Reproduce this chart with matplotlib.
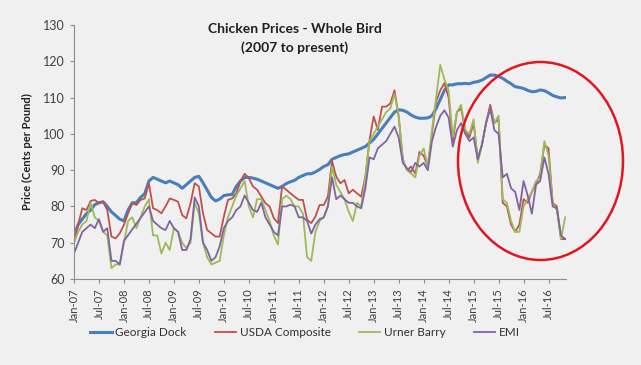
import numpy as np
import pandas as pd
import matplotlib
matplotlib.use("Agg")
import matplotlib.pyplot as plt
from matplotlib.patches import Ellipse

# monthly readings, Jan 2007 .. Nov 2016 (cents per pound)
dates = pd.date_range("2007-01-01", periods=119, freq="MS")

georgia_dock = [
    72, 75, 76.5, 78, 79, 80.5, 81, 81.3, 80, 78.5, 77.5, 76.5,
    76, 79, 81, 81, 82.5, 83.5, 87, 88, 87.5, 87, 86.5, 87,
    86.5, 86, 85, 86, 87, 88, 88.3, 86.5, 84.5, 82.5, 81.5, 82,
    83, 83.2, 83.3, 85.5, 87, 88, 88, 87.8, 87.5, 87, 86.5, 86,
    85.5, 85, 85.5, 86.3, 86.8, 87.2, 88, 88.5, 89, 89, 89.5, 90.2,
    91, 91.5, 93, 93.5, 94, 94.3, 94.5, 95, 95.5, 96, 96.5, 97.5,
    98.5, 100, 101.5, 103, 104.5, 106, 106.6, 106.5, 106, 105.2, 104.6, 104.3,
    104.3, 104.4, 105, 107, 109.5, 112, 113.5, 113.5, 113.8, 113.8, 113.9, 113.8,
    114.2, 114.4, 114.8, 115.5, 116.2, 116.2, 115.8, 115.3, 114.5, 113.8, 113, 112.8,
    112.5, 112, 111.6, 111.7, 112.1, 111.9, 111.3, 110.6, 110.2, 109.9, 110,
]

usda_composite = [
    70, 75, 79.5, 79, 81.5, 81.8, 80.9, 81.3, 79, 71.7, 71.2, 72.6,
    74.9, 78.1, 80.9, 80.4, 81.8, 82.2, 86.4, 79.5, 79, 78.1, 80, 82.2,
    81.8, 81.3, 77.6, 76.7, 80.9, 86.4, 85.5, 78.1, 73.5, 72.6, 71.7, 71.7,
    77.2, 81.8, 82.2, 83.6, 87, 89, 87.8, 85.5, 84.6, 82.7, 80.9, 80,
    76.8, 75.4, 85.5, 84.6, 83.6, 82.7, 81.8, 81.8, 76.3, 75.4, 77.2, 80.4,
    80.4, 82.7, 92.4, 88.2, 86.4, 87.3, 83.6, 84.6, 83.6, 82.7, 88.2, 98.3,
    104.8, 101.1, 107.5, 107.5, 108.4, 112, 104.8, 92.8, 90, 91, 89, 95,
    94, 91, 100, 109, 112, 114, 110, 98, 106, 107, 101, 99,
    103, 93, 97, 103, 108, 103, 104, 81, 80, 75, 73, 75,
    82, 81, 84, 86, 89, 97, 96, 81, 80, 71, 71,
]

urner_barry = [
    70, 73, 75, 76, 81, 77, 76, 73, 72, 63, 64, 64,
    70, 76, 77, 74, 77, 80, 82, 72, 72, 67, 70, 68,
    74, 73, 70, 68.5, 70, 81, 78, 70, 66, 64, 64.5, 65,
    72, 77, 80, 83, 85, 87, 80, 77, 82, 82, 79, 76,
    72, 69.5, 82, 83, 82, 80, 80, 78, 66, 65, 73, 76,
    77, 80, 91, 86, 84, 82, 78.5, 76, 81, 80, 88, 98,
    100, 102, 104, 106, 107, 111, 105, 93, 90, 89, 88, 94,
    96, 91, 101, 110, 119, 115, 112, 99, 106, 108, 101, 100,
    104, 92, 97, 103, 107, 103, 105, 82, 81, 76, 73, 73,
    80, 82, 84, 87, 88, 98, 94, 81, 79, 71, 77,
]

emi = [
    67, 70, 73, 74, 75, 74, 76.5, 73, 74, 65, 65, 64,
    70.5, None, None, None, None, None, 80, 76, 75, 74, 73.5, 76,
    74, 73, 68, 68, 71, 82.5, 80, 70, 68, 65, 66, 69,
    74, 76, 77, 79, 80, 83, 81, 79, 78.5, 81, 77, 75,
    73, 72, 80, 80, 80.5, 80, 77, 77, 76, 72.5, 75, 76.5,
    77, 80, 88, 82, 83, 82, 81, 81, 80, 79.5, 85, 93.5,
    93, 96, 97, 98, 100, 102, 99, 92, 90.5, 89.5, 92, 91,
    92, 90, 98, 102, 105, 106.5, 104.5, 96.5, 101, 103, 100, 98,
    99, 93, 97, 103, 107, 101, 100, 88, 89, 85, 84, 79,
    87, 83, 78, 86, 87, 93.5, 89, 80, 79.5, 72, 71,
]

plt.rcParams['font.family'] = ['Lato', 'DejaVu Sans']

bg = '#f0f0f0'
fig = plt.figure(figsize=(6.41, 3.65), dpi=100, facecolor=bg)
ax = fig.add_axes([0.1154, 0.2356, 0.7676, 0.6959], facecolor=bg)

x = np.arange(len(dates))

ax.plot(x, georgia_dock, color='#4a7ebb', lw=2.2, label='Georgia Dock')
ax.plot(x, usda_composite, color='#c0504d', lw=1.3, label='USDA Composite')
ax.plot(x, urner_barry, color='#9bbb59', lw=1.3, label='Urner Barry')
# EMI has a gap in early 2008; the line just bridges it
emi_s = pd.Series(emi, dtype=float)
ok = emi_s.notna().values
ax.plot(x[ok], emi_s[ok], color='#8064a2', lw=1.3, label='EMI')

ax.set_ylim(60, 130)
ax.set_yticks(range(60, 131, 10))
ax.set_xlim(0, 118.2)
ticks = x[::6]
ax.set_xticks(ticks)
ax.set_xticklabels([d.strftime('%b-%y') for d in dates[::6]], rotation=90)

for s in ['top', 'right']:
    ax.spines[s].set_visible(False)
for s in ['left', 'bottom']:
    ax.spines[s].set_color('#8c8c8c')
    ax.spines[s].set_linewidth(0.8)
ax.tick_params(axis='both', colors='#8c8c8c', labelcolor='#404040',
               labelsize=8, length=3, width=0.8)
ax.tick_params(axis='y', labelsize=9)

ax.set_ylabel('Price (Cents per Pound)', fontsize=8, fontweight='bold',
              color='#202020', labelpad=7)

fig.text(295 / 641, 1 - 29 / 365, 'Chicken Prices - Whole Bird',
         ha='center', va='center', fontsize=10, fontweight='bold', color='#202020')
fig.text(295 / 641, 1 - 48 / 365, '(2007 to present)',
         ha='center', va='center', fontsize=10, fontweight='bold', color='#202020')

fig.legend(loc='center', bbox_to_anchor=(305 / 641, 1 - 333 / 365), ncol=4,
           frameon=False, fontsize=8.5, handlelength=1.8, handletextpad=0.3,
           columnspacing=2.4, labelcolor='#303030')

# red circle drawn around the recent period
ring = Ellipse((540.5 / 641, 1 - 161 / 365), 165 / 641, 198 / 365,
               transform=fig.transFigure, fill=False, edgecolor='#e3161e', lw=1.8)
fig.add_artist(ring)

fig.savefig('out.png', dpi=100, facecolor=bg)
